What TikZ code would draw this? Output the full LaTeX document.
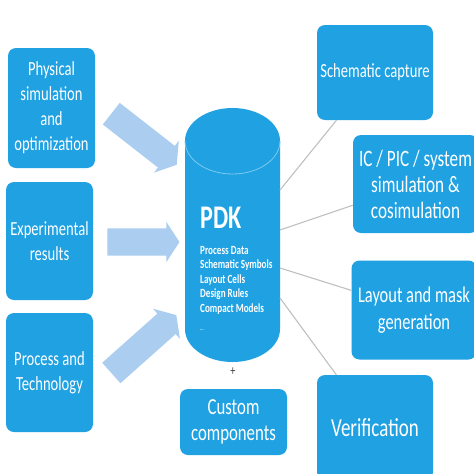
\documentclass[tikz,border=0pt]{standalone}
\usepackage{fontspec}
\setmainfont{Carlito}[FakeStretch=0.73]
\usetikzlibrary{shapes.arrows}
\definecolor{boxblue}{RGB}{31,161,226}
\definecolor{arrblue}{RGB}{170,205,240}
\definecolor{linegray}{RGB}{192,192,192}
\definecolor{rimblue}{RGB}{125,202,242}
\begin{document}
\begin{tikzpicture}[x=1pt,y=-1pt,
  box/.style={rectangle, rounded corners=8pt, fill=boxblue, text=white, align=center,
    inner sep=0pt, font=\fontsize{20}{25}\selectfont},
  bigtext/.style={font=\fontsize{23}{26}\selectfont},
  blockarr/.style={single arrow, fill=arrblue, draw=none, inner sep=13.5pt,
    single arrow head extend=6.5pt, single arrow tip angle=114},
  conn/.style={draw=linegray, line width=1.1pt}]
\useasboundingbox (0,0) rectangle (474,474);
\fill[white] (0,0) rectangle (474,474);
\begin{scope}
\clip (0,0) rectangle (474,474);
% left boxes
\node[box, minimum width=87, minimum height=120] (phys) at (51.5,108) {Physical\\simulation\\and\\optimization};
\node[box, minimum width=87, minimum height=118] (exp) at (49.5,241) {Experimental\\results};
\node[box, minimum width=87, minimum height=119] (proc) at (49.5,372.5) {Process and\\Technology};
% block arrows
\node[blockarr, rotate=-38, minimum height=83] (a1) at (140.5,136.5) {};
\node[blockarr, minimum height=72] (a2) at (139,242) {};
\node[blockarr, rotate=41.7, minimum height=87] (a3) at (140.5,347) {};
% cylinder
\fill[boxblue] (185,141) -- (185,329) arc[start angle=180, end angle=360, x radius=47.5pt, y radius=33pt]
  -- (280,141) arc[start angle=0, end angle=180, x radius=47.5pt, y radius=33pt] -- cycle;
\draw[rimblue, line width=0.8pt] (185,141) arc[start angle=180, end angle=360, x radius=47.5pt, y radius=33pt];
\node[anchor=base west, inner sep=0pt, text=white, font=\fontsize{33}{33}\selectfont\bfseries] (pdk) at (200,228) {PDK};
\node[anchor=north west, inner sep=0pt, text=white, align=left, font=\fontsize{12.5}{14.5}\selectfont\bfseries] (pdklist) at (200,246)
  {Process Data\\Schematic Symbols\\Layout Cells\\Design Rules\\Compact Models\\[4pt]{\fontsize{6}{6}\selectfont ...}};
\coordinate (c1) at (280,190);
\coordinate (c2) at (280,230);
\coordinate (c3) at (280,268);
\coordinate (c4) at (280,298);
% plus and custom
\node[text=black!75, font=\fontsize{14}{14}\selectfont, inner sep=0pt] (plus) at (233,372) {+};
\node[box, bigtext, minimum width=107, minimum height=66] (cust) at (233.5,422) {Custom\\components};
% right boxes
\node[box, minimum width=116, minimum height=95] (sch) at (375,72.5) {Schematic capture};
\node[box, font=\fontsize{23.5}{26}\selectfont, minimum width=125, minimum height=98] (ic) at (415.5,184) {IC / PIC / system\\simulation \&\\cosimulation};
\node[box, font=\fontsize{22.5}{27}\selectfont, minimum width=125, minimum height=99] (lay) at (414,310) {Layout and mask\\generation};
\node[box, font=\fontsize{26}{26}\selectfont, minimum width=116, minimum height=105] (ver) at (375,427.5) {Verification};
% connectors
\draw[conn] (c1) -- (sch);
\draw[conn] (c2) -- (ic);
\draw[conn] (c3) -- (lay);
\draw[conn] (c4) -- (ver);
\end{scope}
\end{tikzpicture}
\end{document}
